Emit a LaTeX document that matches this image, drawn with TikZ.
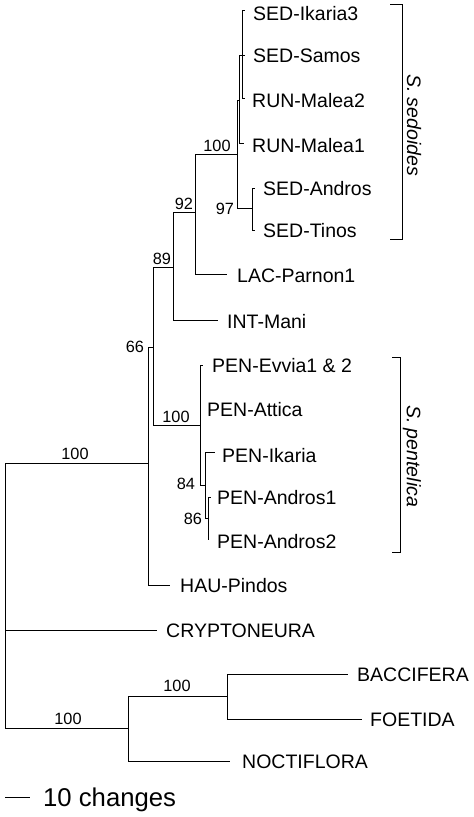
\documentclass[tikz,border=0pt]{standalone}
\usepackage{fontspec}
\setmainfont{Liberation Sans}
\newcommand\leaffont{\fontsize{19.5}{22}\selectfont}
\newcommand\bsfont{\fontsize{16.3}{18}\selectfont}
\newcommand\barfont{\fontsize{25.7}{28}\selectfont}
\begin{document}
\begin{tikzpicture}[x=1pt,y=-1pt,
  branch/.style={line width=1pt, black},
  leaf/.style={anchor=west, inner sep=0pt, font=\leaffont, text height=14pt, text depth=0pt},
  bs/.style={inner sep=0pt, font=\bsfont, text height=11.7pt, text depth=0pt},
  clade/.style={inner sep=0pt, font=\leaffont\itshape, rotate=-90},
  scalelabel/.style={anchor=west, inner sep=0pt, font=\barfont, text height=18.4pt, text depth=0pt}]
\useasboundingbox (0,0) rectangle (474,817);

% internal nodes
\coordinate (R) at (5,630);
\coordinate (ING) at (148,463);
\coordinate (N66) at (153,347);
\coordinate (N89) at (173,267);
\coordinate (N92) at (195,212);
\coordinate (N100S) at (237,154);
\coordinate (NU) at (239,100);
\coordinate (NU2) at (242,55);
\coordinate (N97) at (252,208);
\coordinate (NPEN) at (200,425);
\coordinate (N84) at (205,485);
\coordinate (N86) at (208,518);
\coordinate (OUT) at (128,728);
\coordinate (N100B) at (227,696);

% tips
\coordinate (tIk3) at (245,10);
\coordinate (tSam) at (245,55);
\coordinate (tM2) at (245,98);
\coordinate (tM1) at (244,143);
\coordinate (tAnd) at (255,188);
\coordinate (tTin) at (255,230);
\coordinate (tLAC) at (227,274);
\coordinate (tINT) at (218,320);
\coordinate (tEvv) at (203,365);
\coordinate (tAtt) at (200,409);
\coordinate (tPIk) at (215,452);
\coordinate (tA1) at (211,497);
\coordinate (tA2) at (208,540);
\coordinate (tHAU) at (170,585);
\coordinate (tCRY) at (157,630);
\coordinate (tBAC) at (348,674);
\coordinate (tFOE) at (362,719);
\coordinate (tNOC) at (230,761);

% branches
\draw[branch] (R) |- (ING);
\draw[branch] (R) |- (tCRY);
\draw[branch] (R) |- (OUT);
\draw[branch] (ING) |- (N66);
\draw[branch] (ING) |- (tHAU);
\draw[branch] (N66) |- (N89);
\draw[branch] (N66) |- (NPEN);
\draw[branch] (N89) |- (N92);
\draw[branch] (N89) |- (tINT);
\draw[branch] (N92) |- (N100S);
\draw[branch] (N92) |- (tLAC);
\draw[branch] (N100S) |- (NU);
\draw[branch] (N100S) |- (N97);
\draw[branch] (NU) |- (NU2);
\draw[branch] (NU) |- (tM1);
\draw[branch] (NU2) |- (tIk3);
\draw[branch] (NU2) |- (tSam);
\draw[branch] (NU2) |- (tM2);
\draw[branch] (N97) |- (tAnd);
\draw[branch] (N97) |- (tTin);
\draw[branch] (NPEN) |- (tEvv);
\draw[branch] (NPEN) |- (tAtt);
\draw[branch] (NPEN) |- (N84);
\draw[branch] (N84) |- (tPIk);
\draw[branch] (N84) |- (N86);
\draw[branch] (N86) |- (tA1);
\draw[branch] (N86) |- (tA2);
\draw[branch] (OUT) |- (N100B);
\draw[branch] (OUT) |- (tNOC);
\draw[branch] (N100B) |- (tBAC);
\draw[branch] (N100B) |- (tFOE);

% leaf labels
\node[leaf] (lIk3) at (253,13) {SED-Ikaria3};
\node[leaf] (lSam) at (253,55) {SED-Samos};
\node[leaf] (lM2) at (252,100) {RUN-Malea2};
\node[leaf] (lM1) at (252,145) {RUN-Malea1};
\node[leaf] (lAnd) at (263,188) {SED-Andros};
\node[leaf] (lTin) at (263,230) {SED-Tinos};
\node[leaf] (lLAC) at (237,275) {LAC-Parnon1};
\node[leaf] (lINT) at (227,321) {INT-Mani};
\node[leaf] (lEvv) at (212,365) {PEN-Evvia1 \& 2};
\node[leaf] (lAtt) at (207,409) {PEN-Attica};
\node[leaf] (lPIk) at (222,455) {PEN-Ikaria};
\node[leaf] (lA1) at (217,497) {PEN-Andros1};
\node[leaf] (lA2) at (217,541) {PEN-Andros2};
\node[leaf] (lHAU) at (180,585) {HAU-Pindos};
\node[leaf] (lCRY) at (166,630) {CRYPTONEURA};
\node[leaf] (lBAC) at (357,674) {BACCIFERA};
\node[leaf] (lFOE) at (370,719) {FOETIDA};
\node[leaf] (lNOC) at (242,761) {NOCTIFLORA};

% bootstrap values
\node[bs] (b100s) at (217,146) {100};
\node[bs] (b92) at (184,204) {92};
\node[bs] (b97) at (225,209) {97};
\node[bs] (b89) at (162,259) {89};
\node[bs] (b66) at (135,347) {66};
\node[bs] (b100p) at (176,417) {100};
\node[bs] (b100r) at (75,454) {100};
\node[bs] (b84) at (186,484) {84};
\node[bs] (b86) at (193,519) {86};
\node[bs] (b100o) at (68,719) {100};
\node[bs] (b100b) at (177,686) {100};

% clade brackets
\coordinate (s1) at (390,4);
\coordinate (s2) at (402,4);
\coordinate (s3) at (402,239);
\coordinate (s4) at (390,239);
\draw[branch] (s1) -- (s2) -- (s3) -- (s4);
\node[clade] (csed) at (414,125) {S. sedoides};
\coordinate (p1) at (392,357);
\coordinate (p2) at (400,357);
\coordinate (p3) at (400,552);
\coordinate (p4) at (392,552);
\draw[branch] (p1) -- (p2) -- (p3) -- (p4);
\node[clade] (cpen) at (412,456) {S. pentelica};

% scale bar
\coordinate (sb1) at (5,797);
\coordinate (sb2) at (30,797);
\draw[branch] (sb1) -- (sb2);
\node[scalelabel] (sbl) at (43,797) {10 changes};
\end{tikzpicture}
\end{document}
